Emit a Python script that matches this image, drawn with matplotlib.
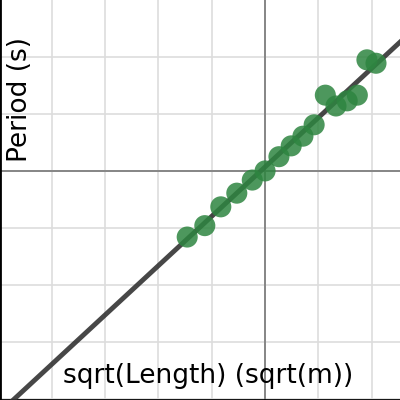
import numpy as np
import matplotlib.pyplot as plt

# points (grid units)
sqrt_len = [-1.46, -1.13, -0.83, -0.53, -0.24, 0.0, 0.26, 0.49, 0.71, 0.92, 1.13, 1.33, 1.54, 1.73, 1.91, 2.08]
period = [-1.16, -0.96, -0.63, -0.39, -0.16, 0.0, 0.25, 0.44, 0.61, 0.81, 1.33, 1.14, 1.23, 1.33, 1.95, 1.89]
slope, intercept = 0.866, 0.07

fig = plt.figure(figsize=(4, 4), dpi=100)
ax = fig.add_axes([0, 0, 1, 1])
ax.set_xlim(-4.97, 2.53)
ax.set_ylim(-4.02, 3.0)
ax.set_xticks(np.arange(-4, 3, 1))
ax.set_yticks(np.arange(-4, 3, 1))
ax.grid(True, color='#dddddd', linewidth=1.2)
ax.tick_params(length=0, labelbottom=False, labelleft=False)
ax.axhline(0, color='#777777', linewidth=1.2)
ax.axvline(0, color='#777777', linewidth=1.2)
for s in ['top', 'right']:
    ax.spines[s].set_visible(False)
ax.spines['left'].set_linewidth(2)
ax.spines['bottom'].set_linewidth(2)

xs = np.array([-5, 3])
ax.plot(xs, slope * xs + intercept, color='#333333', alpha=0.9, linewidth=3.5, zorder=3)
ax.scatter(sqrt_len, period, s=230, color='#2e8540', alpha=0.85, edgecolors='none', zorder=4)

ax.text(0.05, 0.75, 'Period (s)', transform=ax.transAxes, rotation=90,
        fontsize=19, ha='center', va='center')
ax.text(0.52, 0.06, 'sqrt(Length) (sqrt(m))', transform=ax.transAxes,
        fontsize=19, ha='center', va='center')

fig.savefig('out.png', dpi=100)
